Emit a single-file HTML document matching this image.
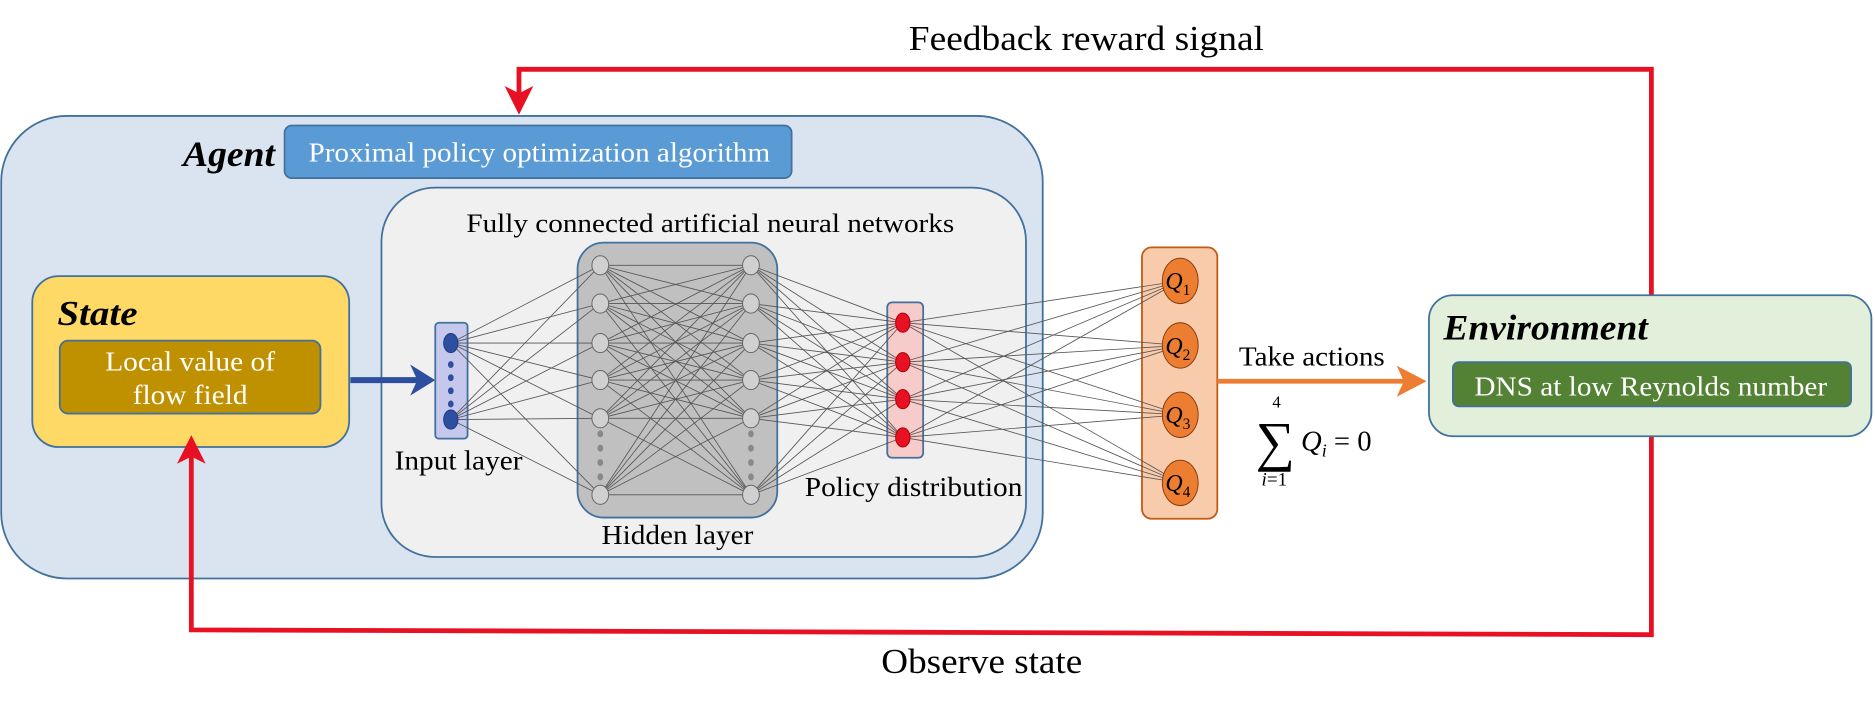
<!DOCTYPE html>
<html><head><meta charset="utf-8"><style>
html,body{margin:0;padding:0;background:#fff;}
svg{display:block;}
text{font-family:"Liberation Serif",serif;}
</style></head><body>
<svg id="s" width="1875" height="704" viewBox="0 0 1568 589" preserveAspectRatio="none" xmlns="http://www.w3.org/2000/svg">
<defs>
<marker id="ar" markerWidth="6" markerHeight="6" refX="5" refY="3" orient="auto" markerUnits="strokeWidth"><path d="M0,0 L6,3 L0,6 L1.5,3 Z" fill="#e81123"/></marker>
</defs>
<text x="760" y="42" font-size="29" textLength="297" lengthAdjust="spacingAndGlyphs">Feedback reward signal</text>
<text x="737" y="563" font-size="29" textLength="168" lengthAdjust="spacingAndGlyphs">Observe state</text>
<!-- agent -->
<rect x="1" y="97" width="871" height="387" rx="55" fill="#dae3f0" stroke="#41719c" stroke-width="1.5"/>
<text x="153" y="139" font-size="30" font-weight="bold" font-style="italic" textLength="77" lengthAdjust="spacingAndGlyphs">Agent</text>
<rect x="238" y="105" width="424" height="44" rx="6" fill="#5b9bd5" stroke="#41719c" stroke-width="1.5"/>
<text x="258" y="135" font-size="23" fill="#fff" textLength="386" lengthAdjust="spacingAndGlyphs">Proximal policy optimization algorithm</text>
<rect x="319" y="157" width="539" height="309" rx="45" fill="#f0f0f0" stroke="#41719c" stroke-width="1.5"/>
<text x="390" y="194" font-size="22" textLength="408" lengthAdjust="spacingAndGlyphs">Fully connected artificial neural networks</text>
<!-- state -->
<rect x="27" y="231" width="265" height="143" rx="22" fill="#ffd966" stroke="#41719c" stroke-width="1.5"/>
<text x="48" y="272" font-size="29" font-weight="bold" font-style="italic" textLength="67" lengthAdjust="spacingAndGlyphs">State</text>
<rect x="50" y="285" width="218" height="61" rx="7" fill="#bf9000" stroke="#41719c" stroke-width="1.5"/>
<text x="88" y="310" font-size="23" fill="#fff" textLength="142" lengthAdjust="spacingAndGlyphs">Local value of</text>
<text x="111" y="338" font-size="23" fill="#fff" textLength="96" lengthAdjust="spacingAndGlyphs">flow field</text>
<line x1="293" y1="318" x2="352" y2="318" stroke="#2e4fa0" stroke-width="5"/>
<path d="M343,305 L364,318 L343,331 L349,318 Z" fill="#2e4fa0"/>
<!-- red loops -->
<polyline points="1381,247 1381,58 434,58 434,92" fill="none" stroke="#e81123" stroke-width="4" marker-end="url(#ar)"/>
<polyline points="1381,365 1381,531 160,527 160,368" fill="none" stroke="#e81123" stroke-width="4" marker-end="url(#ar)"/>
<!-- boxes -->
<rect x="483" y="203" width="167" height="230" rx="22" fill="#c0c0c0" stroke="#41719c" stroke-width="1.5"/>
<rect x="364" y="270" width="27" height="97" rx="3" fill="#c5c8ec" stroke="#41719c" stroke-width="1.5"/>
<rect x="742" y="253" width="30" height="130" rx="4" fill="#f8cbcb" stroke="#41719c" stroke-width="1.5"/>
<rect x="955" y="207" width="63" height="227" rx="8" fill="#f8cbad" stroke="#c55a11" stroke-width="1.5"/>
<g id="lines" stroke="#555" stroke-width="0.7"></g>
<g id="nodes"></g>
<text x="330" y="393" font-size="23" textLength="107" lengthAdjust="spacingAndGlyphs">Input layer</text>
<text x="503" y="455" font-size="23" textLength="127" lengthAdjust="spacingAndGlyphs">Hidden layer</text>
<text x="673" y="415" font-size="23" textLength="182" lengthAdjust="spacingAndGlyphs">Policy distribution</text>
<!-- Q labels -->
<g font-size="20" font-style="italic" text-anchor="middle">
<text x="985" y="242">Q<tspan font-size="13" font-style="normal" dy="5">1</tspan></text>
<text x="985" y="296">Q<tspan font-size="13" font-style="normal" dy="5">2</tspan></text>
<text x="985" y="354">Q<tspan font-size="13" font-style="normal" dy="5">3</tspan></text>
<text x="985" y="411">Q<tspan font-size="13" font-style="normal" dy="5">4</tspan></text>
</g>
<!-- take actions -->
<line x1="1018" y1="319" x2="1180" y2="319" stroke="#ed7d31" stroke-width="4"/>
<path d="M1168,306 L1193,319 L1168,332 L1174,319 Z" fill="#ed7d31"/>
<text x="1036" y="306" font-size="23" textLength="122" lengthAdjust="spacingAndGlyphs">Take actions</text>
<text x="1064" y="341" font-size="14">4</text>
<text x="1050" y="385" font-size="46">∑</text>
<text x="1055" y="406" font-size="16" font-style="italic">i<tspan font-style="normal">=1</tspan></text>
<text x="1088" y="377" font-size="24" font-style="italic">Q<tspan font-size="15" dy="5">i</tspan><tspan font-style="normal" dy="-5"> = 0</tspan></text>
<!-- environment -->
<rect x="1195" y="247" width="370" height="118" rx="20" fill="#e2efda" stroke="#41719c" stroke-width="1.5"/>
<text x="1207" y="284" font-size="30" font-weight="bold" font-style="italic" textLength="171" lengthAdjust="spacingAndGlyphs">Environment</text>
<rect x="1215" y="303" width="333" height="37" rx="5" fill="#548235" stroke="#41719c" stroke-width="1.5"/>
<text x="1233" y="331" font-size="23" fill="#fff" textLength="295" lengthAdjust="spacingAndGlyphs">DNS at low Reynolds number</text>
</svg>
<script>
var NS="http://www.w3.org/2000/svg";
var L=document.getElementById("lines"),N=document.getElementById("nodes");
function ln(a,b){var e=document.createElementNS(NS,"line");e.setAttribute("x1",a[0]);e.setAttribute("y1",a[1]);e.setAttribute("x2",b[0]);e.setAttribute("y2",b[1]);L.appendChild(e);}
function el(x,y,rx,ry,f,s){var e=document.createElementNS(NS,"ellipse");e.setAttribute("cx",x);e.setAttribute("cy",y);e.setAttribute("rx",rx);e.setAttribute("ry",ry);e.setAttribute("fill",f);e.setAttribute("stroke",s);e.setAttribute("stroke-width","0.8");N.appendChild(e);}
var inp=[[377,287],[377,351]];
var hy=[222,254,287,318,350,414];
var h1=hy.map(function(y){return[502,y]}),h2=hy.map(function(y){return[628,y]});
var pol=[270,303,334,366].map(function(y){return[755,y]});
var q=[[987,235],[987,289],[987,347],[987,404]];
inp.forEach(function(a){h1.forEach(function(b){ln(a,b)})});
h1.forEach(function(a){h2.forEach(function(b){ln(a,b)})});
h2.forEach(function(a){pol.forEach(function(b){ln(a,b)})});
pol.forEach(function(a){q.forEach(function(b){ln(a,b)})});
inp.forEach(function(p){el(p[0],p[1],6,8,"#2e4fa0","#1f3a7a")});
[305,316,327,338].forEach(function(y){el(377,y,2,2.5,"#2e4fa0","#2e4fa0")});
h1.concat(h2).forEach(function(p){el(p[0],p[1],7,8,"#d0d0d0","#666")});
[368,380,392,404].forEach(function(y){el(502,y-5,2,2.5,"#888","#888");el(628,y-5,2,2.5,"#888","#888")});
pol.forEach(function(p){el(p[0],p[1],6,8,"#e81123","#a00")});
q.forEach(function(p){el(p[0],p[1],15,19,"#ed7d31","#843c0c")});
</script>
</body></html>
